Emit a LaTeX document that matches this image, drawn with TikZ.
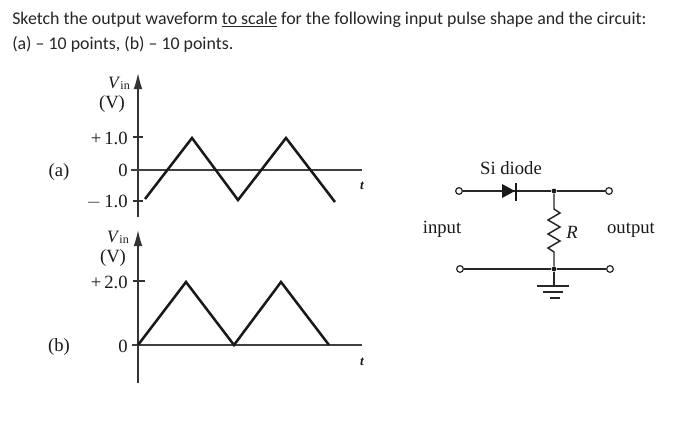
\documentclass[tikz,border=0pt]{standalone}
\usepackage{fontspec}
\setmainfont{Liberation Serif}
\newfontfamily\titlefont{Carlito}
\usetikzlibrary{arrows.meta}
\tikzset{
  x=0.75pt,y=-0.75pt,
  titletext/.style={font=\titlefont\fontsize{13.4}{15}\selectfont,text=black!85,anchor=base west,inner sep=0},
  figlabel/.style={font=\fontsize{14}{16}\selectfont,text=black!90,inner sep=0},
  axisline/.style={draw=black!80,line width=1pt},
  hline/.style={draw=black!75,line width=1pt},
  wave/.style={draw=black!90,line width=1.9pt,line join=miter},
  wire/.style={draw=black!85,line width=1.1pt},
  terminal/.style={circle,draw=black!85,fill=white,line width=0.9pt,minimum size=5pt,inner sep=0},
  junction/.style={circle,fill=black!90,minimum size=3.6pt,inner sep=0},
  vlabel/.style={anchor=base,font=\fontsize{13}{14}\selectfont,text=black!90,inner sep=0},
}
\begin{document}
\begin{tikzpicture}
\useasboundingbox (0,0) rectangle (700,436);
\fill[white] (0,0) rectangle (700,436);
% heading
\node[titletext] (h1) at (12,24) {Sketch the output waveform \underline{to scale} for the following input pulse shape and the circuit:};
\node[titletext] (h2) at (12,49) {(a) – 10 points, (b) – 10 points.};
% panel (a)
\coordinate (aTop) at (138,73); \coordinate (aBot) at (138,217);
\coordinate (aL) at (131,170); \coordinate (aR) at (362,170);
\draw[axisline,-{Latex[length=12pt,width=6.5pt]}] (aBot) -- (aTop);
\draw[hline] (aL) -- (aR);
\coordinate (ap1) at (133,137); \coordinate (ap2) at (143,137);
\coordinate (am1) at (133,201); \coordinate (am2) at (143,201);
\draw[axisline] (ap1) -- (ap2); \draw[axisline] (am1) -- (am2);
\draw[wave] (145,199) -- (192,138) -- (238,200) -- (286,138) -- (335,202);
\node[vlabel] (aV) at (119,88) {\textit{V}\raisebox{-1pt}{\fontsize{9}{10}\selectfont in}};
\node[figlabel,anchor=base] (aU) at (112,108) {(V)};
\node[figlabel,anchor=east] (aP) at (128,138) {+\,1.0};
\node[figlabel,anchor=east] (aZ) at (128,170) {0};
\node[figlabel,anchor=east] (aM) at (128,202) {$-$\,1.0};
\node[figlabel] (aTag) at (59,172) {(a)};
\node[figlabel,font=\fontsize{10}{11}\selectfont\itshape\bfseries] (aT) at (362,186) {t};
% panel (b)
\coordinate (bTop) at (138,230); \coordinate (bBot) at (138,383);
\coordinate (bL) at (132,345); \coordinate (bR) at (362,345);
\draw[axisline,-{Latex[length=12pt,width=6.5pt]}] (bBot) -- (bTop);
\draw[hline] (bL) -- (bR);
\coordinate (bp1) at (133,281); \coordinate (bp2) at (145,281);
\draw[axisline] (bp1) -- (bp2);
\draw[wave] (138,345) -- (186,282) -- (234,345) -- (281,282) -- (329,345);
\node[vlabel] (bV) at (118,242) {\textit{V}\raisebox{-1pt}{\fontsize{9}{10}\selectfont in}};
\node[figlabel,anchor=base] (bU) at (113,262) {(V)};
\node[figlabel,anchor=east] (bP) at (128,282) {+\,2.0};
\node[figlabel,anchor=east] (bZ) at (128,346) {0};
\node[figlabel] (bTag) at (59,347) {(b)};
\node[figlabel,font=\fontsize{10}{11}\selectfont\itshape\bfseries] (bT) at (362,362) {t};
% circuit
\node[terminal] (in1) at (459,191) {};
\node[terminal] (out1) at (609,191) {};
\node[terminal] (in2) at (460,269) {};
\node[terminal] (out2) at (610,269) {};
\node[junction] (j1) at (554,191) {};
\node[junction] (j2) at (554,269) {};
\coordinate (gnd) at (554,286);
\draw[wire] (in1) -- (j1) -- (out1);
\draw[wire] (in2) -- (j2) -- (out2);
\fill[black!90] (502,184) -- (515,191) -- (502,198) -- cycle;
\draw[black!90,line width=1.1pt] (516,183) -- (516,201);
\draw[wire] (j1) -- (554,209) -- (560,213) -- (548,220) -- (560,227) -- (548,234) -- (560,241) -- (548,248) -- (554,252) -- (j2);
\draw[wire] (j2) -- (gnd);
\draw[wire,line width=1.2pt] (537,286) -- (569,286);
\draw[wire,line width=1.2pt] (543,292) -- (563,292);
\draw[wire,line width=1.2pt] (550,298) -- (560,298);
\node[figlabel] (si) at (511,168) {Si diode};
\node[figlabel] (inl) at (442,229) {input};
\node[figlabel] (rl) at (572,232) {\textit{R}};
\node[figlabel] (outl) at (631,230) {output};
\end{tikzpicture}
\end{document}
